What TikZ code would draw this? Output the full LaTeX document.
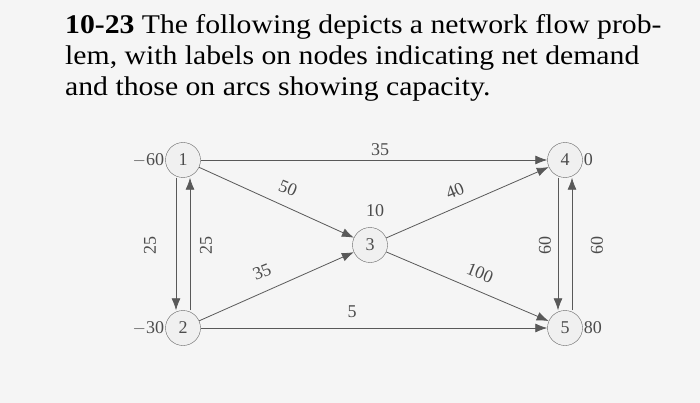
\documentclass[tikz,border=0pt]{standalone}
\usepackage{fontspec}
\setmainfont{Liberation Serif}
\usetikzlibrary{arrows.meta}
\begin{document}
\begin{tikzpicture}[x=1pt,y=-1pt,
 nd/.style={circle,draw=gray!80!black,fill=gray!12,minimum size=35pt,inner sep=0pt,font=\fontsize{18}{18}\selectfont,text=gray!60!black},
 ar/.style={draw=gray!70!black,line width=0.8pt,-{Latex[length=12pt,width=9pt]}},
 lb/.style={font=\fontsize{18}{18}\selectfont,text=gray!60!black,inner sep=1pt}]
\useasboundingbox (0,0) rectangle (700,403);
\fill[gray!8] (0,0) rectangle (700,403);
\node[anchor=north west,inner sep=0pt] (t) at (65,12)
 {\scalebox{1.1}[1]{\fontsize{27}{31}\selectfont\begin{tabular}{@{}l@{}}\textbf{10-23} The following depicts a network flow prob-\\lem, with labels on nodes indicating net demand\\and those on arcs showing capacity.\end{tabular}}};
\node[nd] (n1) at (183,160) {1};
\node[nd] (n2) at (183,328) {2};
\node[nd] (n3) at (370,245) {3};
\node[nd] (n4) at (565,160) {4};
\node[nd] (n5) at (565,328) {5};
\node[lb,anchor=east] at (n1.west) {$-$60};
\node[lb,anchor=east] at (n2.west) {$-$30};
\node[lb] at (375,211) {10};
\node[lb,anchor=west] at (n4.east) {0};
\node[lb,anchor=west] at (n5.east) {80};
\draw[ar] (n1) -- (n4);
\draw[ar] (n2) -- (n5);
\draw[ar] (n1) -- (n3);
\draw[ar] (n2) -- (n3);
\draw[ar] (n3) -- (n4);
\draw[ar] (n3) -- (n5);
\draw[ar] ([xshift=-7pt]n1.south) -- ([xshift=-7pt]n2.north);
\draw[ar] ([xshift=7pt]n2.north) -- ([xshift=7pt]n1.south);
\draw[ar] ([xshift=-7pt]n4.south) -- ([xshift=-7pt]n5.north);
\draw[ar] ([xshift=7pt]n5.north) -- ([xshift=7pt]n4.south);
\node[lb] at (380,150) {35};
\node[lb] at (352,312) {5};
\node[lb,rotate=-22] at (288,188) {50};
\node[lb,rotate=22] at (262,272) {35};
\node[lb,rotate=22] at (455,191) {40};
\node[lb,rotate=-22] at (480,273) {100};
\node[lb,rotate=90] (l12) at (150,245) {25};
\node[lb,rotate=90] (l21) at (206,245) {25};
\node[lb,rotate=90] (l45) at (545,245) {60};
\node[lb,rotate=90] (l54) at (597,245) {60};
\end{tikzpicture}
\end{document}
